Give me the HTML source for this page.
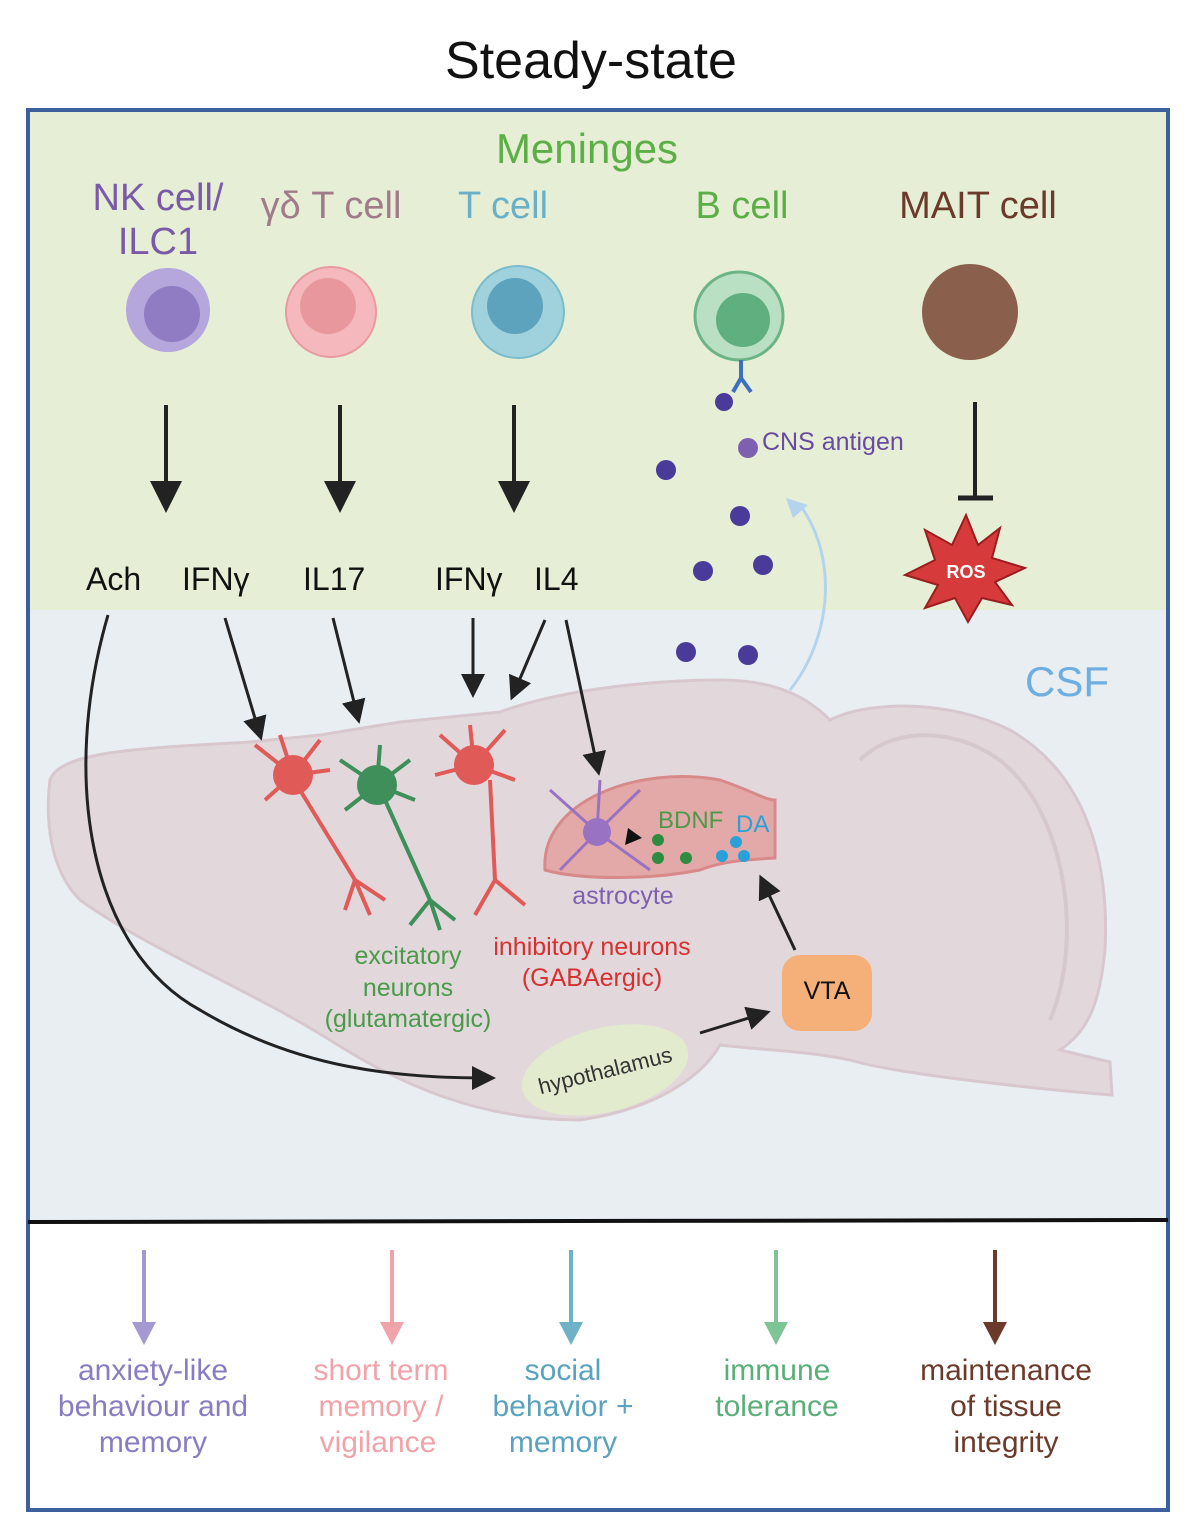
<!DOCTYPE html>
<html><head><meta charset="utf-8"><style>
body{margin:0;background:#fff;}
svg{display:block;font-family:"Liberation Sans",sans-serif;}
</style></head><body>
<svg width="1200" height="1537" viewBox="0 0 1200 1537" xmlns="http://www.w3.org/2000/svg">
<defs>
<marker id="ah" markerWidth="8" markerHeight="8" refX="6" refY="4" orient="auto" markerUnits="strokeWidth"><path d="M0,0 L8,4 L0,8 Z" fill="#222"/></marker>
</defs>
<text x="591" y="78" font-size="52" text-anchor="middle" fill="#111">Steady-state</text>
<rect x="28" y="110" width="1140" height="500" fill="#e6efd6"/>
<rect x="28" y="610" width="1140" height="610" fill="#e9eef3"/>
<rect x="28" y="1220" width="1140" height="290" fill="#fff"/>
<rect x="28" y="110" width="1140" height="1400" fill="none" stroke="#3e5f9e" stroke-width="4"/>
<line x1="28" y1="1222" x2="1168" y2="1220" stroke="#111" stroke-width="4"/>

<!-- brain -->
<path d="M50,780 C60,750 150,748 250,742 L320,735 L400,722 L500,712 C560,690 650,680 720,680 C780,680 810,700 830,720 C870,700 950,700 1010,730 C1080,770 1110,850 1105,950 C1100,1000 1090,1030 1060,1050 L1110,1062 L1112,1095 C1050,1090 900,1075 850,1060 C800,1050 760,1050 720,1045 C700,1080 650,1110 580,1120 C480,1120 400,1085 330,1040 C250,990 150,950 80,900 C50,870 45,820 50,780 Z" fill="#e2d8dc" stroke="#d8c8ce" stroke-width="3"/>
<path d="M860,760 C900,720 980,730 1020,780 C1070,840 1080,950 1050,1020" fill="none" stroke="#d6c8cd" stroke-width="4"/>
<!-- hippocampus -->
<path d="M545,870 C540,800 640,765 720,780 C750,790 765,800 775,800 L775,858 C740,860 720,862 700,870 C650,880 580,880 545,870 Z" fill="#e3a9a8" stroke="#d88a8a" stroke-width="3"/>
<!-- neurons -->
<g fill="#e05a58"><circle cx="293" cy="775" r="20"/><circle cx="474" cy="765" r="20"/></g>
<circle cx="377" cy="785" r="20" fill="#3e8f5a"/>
<g stroke="#e05a58" stroke-width="4" fill="none">
<path d="M293,775 L255,745 M293,775 L265,800 M293,775 L320,740 M293,775 L330,770 M293,775 L280,735"/>
<path d="M474,765 L440,735 M474,765 L435,775 M474,765 L505,730 M474,765 L515,780 M474,765 L470,725"/>
<path d="M300,790 L355,880 M490,780 L495,880"/>
<path d="M355,880 L345,910 M355,880 L385,900 M355,880 L370,915 M495,880 L475,915 M495,880 L525,905"/>
</g>
<g stroke="#3e8f5a" stroke-width="4" fill="none">
<path d="M377,785 L340,760 M377,785 L345,810 M377,785 L410,760 M377,785 L415,800 M377,785 L380,745"/>
<path d="M385,800 L430,900 M430,900 L410,925 M430,900 L455,920 M430,900 L440,930"/>
</g>
<circle cx="597" cy="832" r="14" fill="#9a72c4"/>
<g stroke="#9a72c4" stroke-width="3" fill="none"><path d="M597,832 L550,790 M597,832 L560,870 M597,832 L600,780 M597,832 L640,790 M597,832 L650,870"/></g>
<path d="M628,828 L642,838 L625,845 Z" fill="#111"/>
<g fill="#2e8b40"><circle cx="658" cy="840" r="6"/><circle cx="658" cy="858" r="6"/><circle cx="686" cy="858" r="6"/></g>
<g fill="#2aa0d8"><circle cx="736" cy="842" r="6"/><circle cx="722" cy="856" r="6"/><circle cx="744" cy="856" r="6"/></g>
<text x="658" y="828" font-size="24" fill="#4a9a4a">BDNF</text>
<text x="736" y="832" font-size="24" fill="#2aa0d8">DA</text>
<text x="623" y="904" font-size="25" text-anchor="middle" fill="#7e5fb0">astrocyte</text>
<text x="408" y="964" font-size="25" text-anchor="middle" fill="#4a9a4a">excitatory</text>
<text x="408" y="996" font-size="25" text-anchor="middle" fill="#4a9a4a">neurons</text>
<text x="408" y="1027" font-size="25" text-anchor="middle" fill="#4a9a4a">(glutamatergic)</text>
<text x="592" y="955" font-size="25" text-anchor="middle" fill="#d63030">inhibitory neurons</text>
<text x="592" y="986" font-size="25" text-anchor="middle" fill="#d63030">(GABAergic)</text>
<rect x="782" y="955" width="90" height="76" rx="18" fill="#f5b07a"/>
<text x="827" y="999" font-size="25" text-anchor="middle" fill="#111">VTA</text>
<ellipse cx="605" cy="1070" rx="85" ry="42" transform="rotate(-14 605 1070)" fill="#e3ebcf"/>
<text x="605" y="1078" font-size="22" text-anchor="middle" fill="#333" transform="rotate(-14 605 1070)">hypothalamus</text>
<text x="1067" y="696" font-size="42" text-anchor="middle" fill="#6eaee0">CSF</text>

<!-- meninges content -->
<text x="587" y="163" font-size="42" text-anchor="middle" fill="#5cae46">Meninges</text>
<text x="158" y="210" font-size="38" text-anchor="middle" fill="#7a5aa8">NK cell/</text>
<text x="158" y="254" font-size="38" text-anchor="middle" fill="#7a5aa8">ILC1</text>
<text x="331" y="218" font-size="38" text-anchor="middle" fill="#a07c8a">γδ T cell</text>
<text x="503" y="218" font-size="38" text-anchor="middle" fill="#6ab0c8">T cell</text>
<text x="742" y="218" font-size="38" text-anchor="middle" fill="#5cae46">B cell</text>
<text x="978" y="218" font-size="38" text-anchor="middle" fill="#6b3a2a">MAIT cell</text>
<circle cx="168" cy="310" r="42" fill="#b5a6dc"/><circle cx="172" cy="314" r="28" fill="#8f7cc2"/>
<circle cx="331" cy="312" r="45" fill="#f5b9bd" stroke="#e89aa0" stroke-width="2"/><circle cx="328" cy="306" r="28" fill="#e8989d"/>
<circle cx="518" cy="312" r="46" fill="#9fd2dc" stroke="#7bbccb" stroke-width="2"/><circle cx="515" cy="306" r="28" fill="#5ea3bd"/>
<circle cx="739" cy="316" r="44" fill="#b9e0c2" stroke="#6cb485" stroke-width="3"/><circle cx="743" cy="320" r="27" fill="#5fb07e"/>
<path d="M741,360 L741,378 M741,378 L733,392 M741,378 L751,392" stroke="#3d6fc0" stroke-width="4" fill="none"/>
<circle cx="724" cy="402" r="9" fill="#4a3a9a"/>
<circle cx="970" cy="312" r="48" fill="#8a604c"/>
<g stroke="#222" stroke-width="4" marker-end="url(#ah)">
<line x1="166" y1="405" x2="166" y2="505"/>
<line x1="340" y1="405" x2="340" y2="505"/>
<line x1="514" y1="405" x2="514" y2="505"/>
</g>
<line x1="975" y1="402" x2="975" y2="498" stroke="#222" stroke-width="4"/>
<line x1="958" y1="498" x2="993" y2="498" stroke="#222" stroke-width="5"/>
<path d="M966,515 L978,545 L1000,528 L992,558 L1025,568 L995,582 L1012,605 L982,598 L968,622 L955,598 L925,608 L938,585 L905,575 L935,560 L925,530 L952,545 Z" fill="#d63a3a" stroke="#9a1e1e" stroke-width="2"/>
<text x="966" y="578" font-size="18" font-weight="bold" text-anchor="middle" fill="#fff">ROS</text>
<g fill="#4a3a9a"><circle cx="666" cy="470" r="10"/><circle cx="740" cy="516" r="10"/><circle cx="703" cy="571" r="10"/><circle cx="763" cy="565" r="10"/><circle cx="686" cy="652" r="10"/><circle cx="748" cy="655" r="10"/></g>
<circle cx="748" cy="448" r="10" fill="#7e5fb0"/>
<text x="762" y="450" font-size="25" fill="#6a4aa0">CNS antigen</text>
<path d="M790,690 C830,640 840,560 800,505" fill="none" stroke="#b4d4ee" stroke-width="3"/>
<path d="M786,498 L808,505 L793,518 Z" fill="#b4d4ee"/>
<g font-size="32" fill="#111">
<text x="86" y="590">Ach</text><text x="182" y="590">IFNγ</text><text x="303" y="590">IL17</text><text x="435" y="590">IFNγ</text><text x="534" y="590">IL4</text>
</g>
<g stroke="#222" stroke-width="3" fill="none" marker-end="url(#ah)">
<line x1="225" y1="618" x2="260" y2="735"/>
<line x1="333" y1="618" x2="358" y2="718"/>
<line x1="473" y1="618" x2="473" y2="692"/>
<line x1="545" y1="620" x2="513" y2="695"/>
<line x1="566" y1="620" x2="598" y2="770"/>
<line x1="795" y1="950" x2="762" y2="880"/>
<line x1="700" y1="1033" x2="765" y2="1013"/>
<path d="M108,615 C60,780 90,950 200,1010 C300,1070 400,1078 490,1078"/>
</g>

<!-- bottom -->
<g stroke-width="4">
<line x1="144" y1="1250" x2="144" y2="1325" stroke="#a499d0"/><path d="M132,1322 L156,1322 L144,1345 Z" fill="#a499d0"/>
<line x1="392" y1="1250" x2="392" y2="1325" stroke="#f0a3a8"/><path d="M380,1322 L404,1322 L392,1345 Z" fill="#f0a3a8"/>
<line x1="571" y1="1250" x2="571" y2="1325" stroke="#6fb2c8"/><path d="M559,1322 L583,1322 L571,1345 Z" fill="#6fb2c8"/>
<line x1="776" y1="1250" x2="776" y2="1325" stroke="#7ec495"/><path d="M764,1322 L788,1322 L776,1345 Z" fill="#7ec495"/>
<line x1="995" y1="1250" x2="995" y2="1325" stroke="#6b3a2a"/><path d="M983,1322 L1007,1322 L995,1345 Z" fill="#6b3a2a"/>
</g>
<g font-size="30" text-anchor="middle">
<text x="153" y="1380" fill="#8a7cc0">anxiety-like</text><text x="153" y="1416" fill="#8a7cc0">behaviour and</text><text x="153" y="1452" fill="#8a7cc0">memory</text>
<text x="381" y="1380" fill="#f0a3a8">short term</text><text x="381" y="1416" fill="#f0a3a8">memory /</text><text x="378" y="1452" fill="#f0a3a8">vigilance</text>
<text x="563" y="1380" fill="#5aa2bd">social</text><text x="563" y="1416" fill="#5aa2bd">behavior +</text><text x="563" y="1452" fill="#5aa2bd">memory</text>
<text x="777" y="1380" fill="#5aae78">immune</text><text x="777" y="1416" fill="#5aae78">tolerance</text>
<text x="1006" y="1380" fill="#6b3a2a">maintenance</text><text x="1006" y="1416" fill="#6b3a2a">of tissue</text><text x="1006" y="1452" fill="#6b3a2a">integrity</text>
</g>
</svg>
</body></html>
